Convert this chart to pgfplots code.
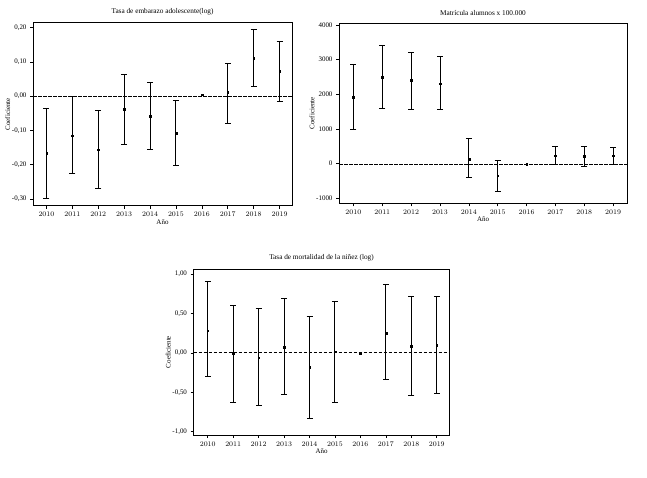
\documentclass[border=0pt]{standalone}
\usepackage{fontspec}
\setmainfont{Liberation Serif}
\usepackage{pgfplots}
\usepackage{pgfplotstable}
\pgfplotsset{compat=1.18}

% x  y  lo  hi
\pgfplotstableread{
x y lo hi
2010 -0.166 -0.299 -0.035
2011 -0.115 -0.227 0.000
2012 -0.156 -0.268 -0.043
2013 -0.038 -0.140 0.064
2014 -0.059 -0.157 0.041
2015 -0.108 -0.202 -0.012
2017 0.011 -0.079 0.096
2018 0.111 0.029 0.196
2019 0.074 -0.014 0.159
}\embarazo

\pgfplotstableread{
x y lo hi
2010 1920 985 2850
2011 2490 1590 3400
2012 2400 1570 3220
2013 2310 1570 3090
2014 115 -405 725
2015 -357 -800 87
2017 222 -20 500
2018 212 -75 500
2019 222 -20 465
}\matricula

\pgfplotstableread{
x y lo hi
2010 0.283 -0.304 0.907
2011 -0.005 -0.633 0.603
2012 -0.063 -0.667 0.557
2013 0.072 -0.527 0.692
2014 -0.181 -0.835 0.456
2015 0.013 -0.633 0.658
2017 0.253 -0.342 0.865
2018 0.084 -0.544 0.709
2019 0.101 -0.519 0.709
}\ninez

\pgfplotsset{
  coefplot/.style={
    scale only axis,
    font=\fontsize{7}{8}\selectfont,
    tick label style={font=\fontsize{7}{8}\selectfont},
    label style={font=\fontsize{7}{8}\selectfont},
    title style={font=\fontsize{7.3}{8}\selectfont, yshift=-2bp},
    axis line style={line width=0.8bp},
    tick style={line width=0.6bp, black},
    tick align=outside,
    major tick length=3bp,
    tick pos=left,
    xmin=2009.48, xmax=2019.48,
    xtick={2010,...,2019},
    xticklabel style={/pgf/number format/1000 sep=},
    xlabel={Año},
    ylabel={Coeficiente},
    xlabel style={yshift=4bp},
    ylabel style={yshift=-5bp},
  },
  bars/.style={
    only marks, black, mark=square*, mark size=0.8bp,
    mark options={line width=0.3bp, draw=black, fill=black},
    error bars/.cd, y dir=both, y explicit,
    error mark=|,
    error bar style={line width=1bp, black},
    error mark options={mark size=3bp, line width=1bp, black},
  },
  dots/.style={only marks, mark=square*, mark size=0.8bp, mark options={line width=0.3bp, draw=black, fill=black}},
}

\begin{document}
\begin{tikzpicture}
\useasboundingbox (0,0) rectangle (647bp,478bp);

\begin{axis}[coefplot,
  at={(33bp,272.3bp)}, anchor=south west,
  width=259bp, height=183bp,
  ymin=-0.3196, ymax=0.2146,
  ytick={-0.3,-0.2,-0.1,0,0.1,0.2},
  yticklabels={{-0,30},{-0,20},{-0,10},{0,00},{0,10},{0,20}},
  title={Tasa de embarazo adolescente(log)},
]
\addplot[black, dashed, line width=0.8bp, dash pattern=on 3.5bp off 1.5bp] coordinates {(2009.48,0) (2019.48,0)};
\addplot[bars] table[x=x, y=y,
  y error plus expr=\thisrow{hi}-\thisrow{y},
  y error minus expr=\thisrow{y}-\thisrow{lo}] {\embarazo};
\addplot[dots] coordinates {(2016,0.004)};
\end{axis}

\begin{axis}[coefplot,
  at={(339bp,274.7bp)}, anchor=south west,
  width=288bp, height=180bp,
  xmin=2009.5, xmax=2019.48,
  ymin=-1153, ymax=4050,
  ytick={-1000,0,1000,2000,3000,4000},
  yticklabels={-1000,0,1000,2000,3000,4000},
  title={Matrícula alumnos x 100.000},
]
\addplot[black, dashed, line width=0.8bp, dash pattern=on 3.5bp off 1.5bp] coordinates {(2009.5,-20) (2019.48,-20)};
\addplot[bars] table[x=x, y=y,
  y error plus expr=\thisrow{hi}-\thisrow{y},
  y error minus expr=\thisrow{y}-\thisrow{lo}] {\matricula};
\addplot[dots] coordinates {(2016,-20)};
\end{axis}

\begin{axis}[coefplot,
  at={(193.5bp,43bp)}, anchor=south west,
  width=256bp, height=166bp,
  xmin=2009.44, xmax=2019.5,
  ymin=-1.042, ymax=1.064,
  ytick={-1,-0.5,0,0.5,1},
  yticklabels={{-1,00},{-0,50},{0,00},{0,50},{1,00}},
  title={Tasa de mortalidad de la niñez (log)},
]
\addplot[black, dashed, line width=0.8bp, dash pattern=on 3.5bp off 1.5bp] coordinates {(2009.44,0) (2019.5,0)};
\addplot[bars] table[x=x, y=y,
  y error plus expr=\thisrow{hi}-\thisrow{y},
  y error minus expr=\thisrow{y}-\thisrow{lo}] {\ninez};
\addplot[dots] coordinates {(2016,0)};
\end{axis}
\end{tikzpicture}
\end{document}
